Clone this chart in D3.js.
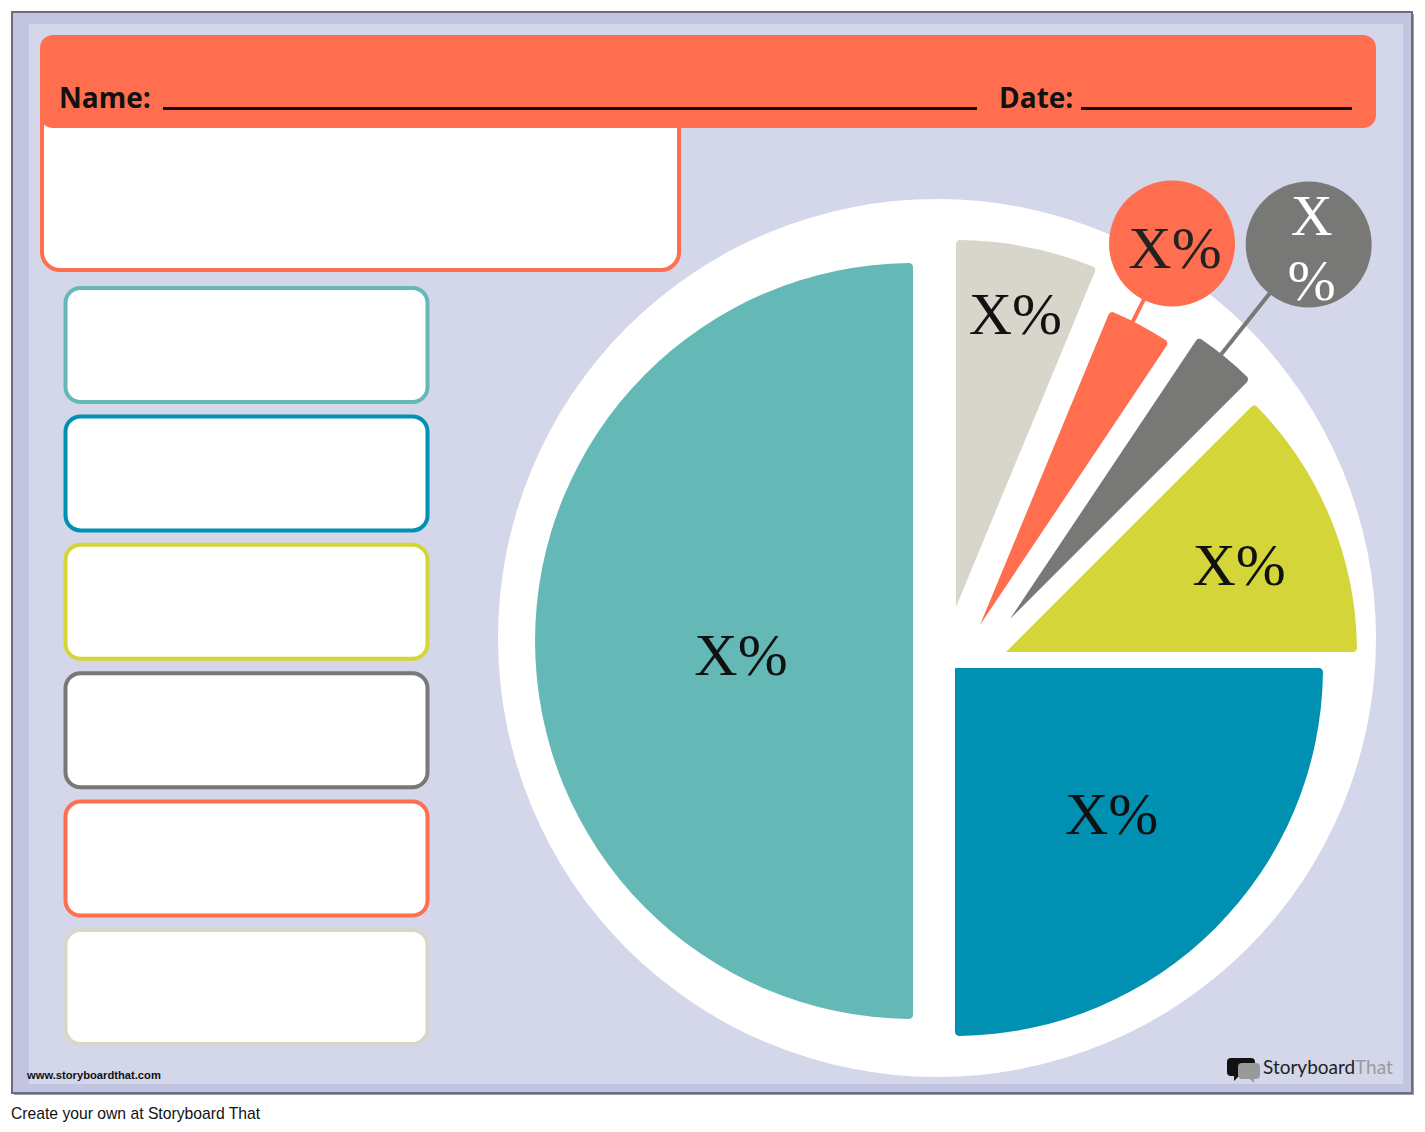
<!DOCTYPE html>
<html><head><meta charset="utf-8">
<script src="https://cdn.jsdelivr.net/npm/d3@7"></script>
<style>body{margin:0;background:#fff}svg{display:block}</style>
</head><body>
<svg id="c" width="1425" height="1132"></svg>
<script>
// ---- data ----
const categories = ["Beige", "Orange", "Gray", "Yellow", "Blue", "Teal"];
const values = [6.25, 3.125, 3.125, 12.5, 25, 50];
const sliceLabels = ["X%", "X%", "X%", "X%", "X%", "X%"];
const legendOrder = ["Teal", "Blue", "Yellow", "Gray", "Orange", "Beige"];
const headerLabels = ["Name:", "Date:"];

// ---- styles / layout ----
const colors = {Beige:"#d8d6ca", Orange:"#ff6e4e", Gray:"#787876", Yellow:"#d4d539", Blue:"#0090b1", Teal:"#64b9b7"};
const sliceLayout = {
  Beige:{dx:19,dy:-31,r:367,labelR:299,lo:[1,0]},
  Orange:{dx:43,dy:-13,r:340,callout:427,ca:-1.4},
  Gray:{dx:73,dy:-19,r:339,callout:479,ca:-0.8,split:true},
  Yellow:{dx:69,dy:14,r:351,labelR:248,lo:[4,8]},
  Blue:{dx:18,dy:30,r:368,labelR:213,lo:[6,-5]},
  Teal:{dx:-24,dy:3,r:378,labelR:172,lo:[0,14]}
};
const svg = d3.select("#c");

// frame
svg.append("rect").attr("x",14).attr("y",14).attr("width",1400).attr("height",1081).attr("fill","#9a9aa8");
svg.append("rect").attr("x",12).attr("y",12).attr("width",1400).attr("height",1081)
  .attr("fill","#c3c4df").attr("stroke","#6d6d7d").attr("stroke-width",2);
svg.append("rect").attr("x",29).attr("y",24).attr("width",1374).attr("height",1060).attr("fill","#d4d6e9");

// title box
svg.append("rect").attr("x",42).attr("y",80).attr("width",637).attr("height",190).attr("rx",18)
  .attr("fill","#fff").attr("stroke",colors.Orange).attr("stroke-width",4);
// header
svg.append("rect").attr("x",40).attr("y",35).attr("width",1336).attr("height",93).attr("rx",13).attr("fill","#ff6e4e");
const hdr = svg.append("g").attr("font-family","'Open Sans', sans-serif").attr("font-weight",700).attr("font-size",28).attr("fill","#111");
hdr.append("text").attr("x",59).attr("y",108).text(headerLabels[0]);
hdr.append("text").attr("x",999).attr("y",108).text(headerLabels[1]);
hdr.append("line").attr("x1",163).attr("x2",977).attr("y1",108.5).attr("y2",108.5).attr("stroke","#111").attr("stroke-width",3);
hdr.append("line").attr("x1",1081).attr("x2",1352).attr("y1",108.5).attr("y2",108.5).attr("stroke","#111").attr("stroke-width",3);

// legend boxes
const ly = d3.scalePoint().domain(legendOrder).range([288, 930]);
svg.append("g").selectAll("rect").data(legendOrder).join("rect")
  .attr("x",65.5).attr("y",d=>ly(d)).attr("width",362).attr("height",114).attr("rx",15)
  .attr("fill","#fff").attr("stroke",d=>colors[d]).attr("stroke-width",4);

// pie
const cx = 937, cy = 638;
svg.append("circle").attr("cx",cx).attr("cy",cy).attr("r",439).attr("fill","#fff");
const pie = d3.pie().sort(null).value(d=>d.v);
const arcs = pie(categories.map((c,i)=>({c, v:values[i], label:sliceLabels[i]})));
const g = svg.append("g").attr("transform",`translate(${cx},${cy})`);
const serif = "'Liberation Serif','Times New Roman',serif";

arcs.forEach(a=>{
  const L = sliceLayout[a.data.c];
  const sg = g.append("g").attr("transform",`translate(${L.dx},${L.dy})`);
  const arc = d3.arc().innerRadius(0).outerRadius(L.r).cornerRadius(4);
  const mid = (a.startAngle + a.endAngle)/2 + (L.ca||0)*Math.PI/180;
  const pt = r => [Math.sin(mid)*r, -Math.cos(mid)*r];
  if (L.callout) {
    const p0 = pt(L.r - 5), p1 = pt(L.callout);
    sg.append("line").attr("x1",p0[0]).attr("y1",p0[1]).attr("x2",p1[0]).attr("y2",p1[1])
      .attr("stroke",colors[a.data.c]).attr("stroke-width",4);
    sg.append("circle").attr("cx",p1[0]).attr("cy",p1[1]).attr("r",63).attr("fill",colors[a.data.c]);
  }
  sg.append("path").attr("d",arc(a)).attr("fill",colors[a.data.c]);
  if (L.labelR) {
    const p = pt(L.labelR);
    sg.append("text").attr("x",p[0]+L.lo[0]).attr("y",p[1]+20+L.lo[1]).attr("text-anchor","middle")
      .attr("font-family",serif).attr("font-size",60).attr("fill","#111").text(a.data.label);
  } else if (L.split) {
    const p = pt(L.callout);
    const t = sg.append("text").attr("text-anchor","middle").attr("font-family",serif)
      .attr("font-size",58).attr("fill","#fff");
    t.append("tspan").attr("x",p[0]+3).attr("y",p[1]-10).text(a.data.label.slice(0,1));
    t.append("tspan").attr("x",p[0]+3).attr("y",p[1]+55).text(a.data.label.slice(1));
  } else {
    const p = pt(L.callout);
    sg.append("text").attr("x",p[0]+3).attr("y",p[1]+24).attr("text-anchor","middle")
      .attr("font-family",serif).attr("font-size",60).attr("fill","#222").text(a.data.label);
  }
});

// footer
svg.append("text").attr("x",27).attr("y",1079).attr("font-family","'Liberation Sans Narrow','Liberation Sans',Arial,sans-serif")
  .attr("font-weight",700).attr("font-size",11.2).attr("fill","#111").text("www.storyboardthat.com");
svg.append("text").attr("x",11).attr("y",1119).attr("font-family","'Liberation Sans',Arial,sans-serif")
  .attr("font-size",15.7).attr("fill","#111").text("Create your own at Storyboard That");
// logo
const lg = svg.append("g");
lg.append("path").attr("d","M1231,1058 h20 a4,4 0 0 1 4,4 v10 a4,4 0 0 1 -4,4 h-12 l-5,5 v-5 h-3 a4,4 0 0 1 -4,-4 v-10 a4,4 0 0 1 4,-4z").attr("fill","#111");
lg.append("path").attr("d","M1242,1063 h14 a4,4 0 0 1 4,4 v8 a4,4 0 0 1 -4,4 h-2 v4 l-4,-4 h-8 a4,4 0 0 1 -4,-4 v-8 a4,4 0 0 1 4,-4z").attr("fill","#999");
const lt = lg.append("text").attr("x",1263).attr("y",1074).attr("font-family","Lato, 'Noto Sans', sans-serif").attr("font-size",19);
lt.append("tspan").attr("fill","#222").text("Storyboard");
lt.append("tspan").attr("fill","#9a9a9a").text("That");
</script>
</body></html>
